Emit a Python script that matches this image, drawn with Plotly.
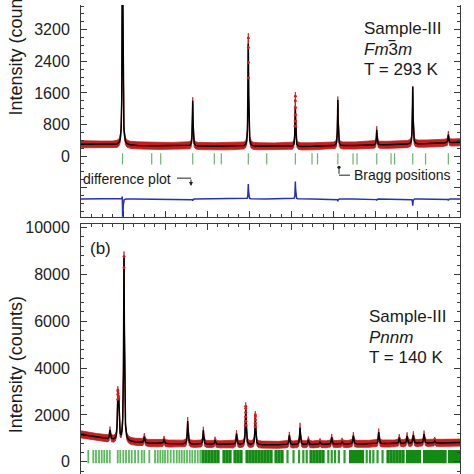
import numpy as np
import plotly.graph_objects as go

# ---------------- data (2-theta in degrees, intensity in counts) ----------------
X_MIN, X_MAX = 10.0, 100.0

# Panel (a): Sample-III, Fm-3m, T = 293 K
top_bg_x = [10, 26, 38, 62, 86, 100]
top_bg_y = [300, 260, 250, 240, 290, 350]
top_peak_pos = [19.86, 36.53, 49.73, 60.90, 70.99, 80.23, 88.78, 97.23]
top_peak_obs = [6100, 1150, 2780, 1290, 1160, 390, 1380, 205]
top_peak_calc = [6000, 1150, 2600, 960, 1160, 390, 1455, 205]
top_noise = 90
top_bragg = [19.86, 26.79, 28.93, 36.53, 41.66, 43.32, 49.73, 54.10, 60.90, 64.86,
             66.17, 70.99, 74.60, 75.55, 80.23, 83.63, 84.46, 88.78, 91.82, 97.23]
top_diff_offset = -1086
top_diff_pos = [19.80, 19.92, 36.53, 49.73, 60.90, 70.99, 80.23, 88.78, 97.23]
top_diff_amp = [190, -700, -50, 380, 440, -60, -40, -170, -40]
top_yticks = [-800, 0, 800, 1600, 2400, 3200]
top_ytext = ["", "0", "800", "1600", "2400", "3200"]

# Panel (b): Sample-III, Pnnm, T = 140 K
bot_bg_x = [10, 13, 16, 19, 22, 26, 32, 45, 56, 70, 85, 100]
bot_bg_y = [1170, 1080, 980, 900, 850, 800, 770, 740, 720, 750, 780, 820]
bot_peak_pos = [16.89, 18.74, 18.95, 20.21, 25.03, 29.71, 35.34, 39.05, 41.83, 46.93,
                49.12, 51.40, 59.47, 62.01, 63.98, 66.76, 69.54, 72.00, 74.67, 80.70,
                85.57, 87.43, 88.92, 91.46, 94.00]
bot_peak_obs = [380, 1780, 1550, 7930, 260, 170, 1000, 590, 170, 460,
                1650, 1280, 400, 780, 190, 110, 290, 120, 360, 500,
                250, 320, 360, 385, 100]
bot_peak_calc = [380, 1700, 1500, 7850, 260, 170, 980, 590, 170, 460,
                 1500, 1150, 400, 720, 190, 110, 290, 120, 360, 500,
                 250, 320, 360, 385, 100]
bot_noise = 150
bot_bragg_low = [11.73, 12.92, 13.56, 14.28, 14.92, 15.53, 16.18, 16.82, 18.72, 19.33,
                 20.05, 20.69, 21.40, 22.04, 22.83, 23.61, 24.42, 25.03, 26.22, 27.58,
                 28.22, 28.83, 29.40, 29.95, 30.59, 31.30, 32.02, 32.73, 33.35, 33.92,
                 34.53, 35.18, 35.82, 36.43, 37.08, 37.72, 38.33]
bot_bragg_dense = [38.98, 39.69, 40.40, 41.11, 41.83, 42.54, 43.96, 44.68, 45.39, 46.58,
                   47.29, 48.00, 49.43, 50.14, 50.85, 51.56, 52.28, 52.99, 53.70, 54.41,
                   55.13, 56.31, 57.03, 57.74, 64.63, 65.34, 66.05, 66.76, 67.48, 74.01,
                   74.72, 75.43, 76.14, 76.86, 82.91, 83.63, 84.34, 85.05, 85.76, 86.48,
                   87.54, 88.26, 88.97, 89.68, 90.39, 91.58, 92.29, 93.01, 93.72, 94.43,
                   95.14, 95.86, 96.45, 97.52, 98.23, 98.94, 99.66]
bot_bragg_split = [59.04, 60.47, 61.78, 62.80, 63.60, 68.73, 69.54, 70.33, 71.23, 72.58,
                   77.85, 78.64, 79.42, 80.42, 81.61]
bot_yticks = [0, 2000, 4000, 6000, 8000, 10000]
bot_ytext = ["0", "2000", "4000", "6000", "8000", "10000"]

# ---------------- profiles built from the read peak list ----------------
x = np.arange(X_MIN, X_MAX + 0.005, 0.01)


def profile(bgx, bgy, pos, hts, g):
    y = np.interp(x, bgx, bgy)
    for p, h in zip(pos, hts):
        y = y + h / (1.0 + ((x - p) / g) ** 2)
    return y


top_obs = profile(top_bg_x, top_bg_y, top_peak_pos, top_peak_obs, 0.09)
top_calc = profile(top_bg_x, top_bg_y, top_peak_pos, top_peak_calc, 0.09)
top_diff = profile([X_MIN, X_MAX], [top_diff_offset, top_diff_offset], top_diff_pos, top_diff_amp, 0.06)
bot_obs = profile(bot_bg_x, bot_bg_y, bot_peak_pos, bot_peak_obs, 0.11)
bot_calc = profile(bot_bg_x, bot_bg_y, bot_peak_pos, bot_peak_calc, 0.11)

RED = "#c41e1e"
fig = go.Figure()


def band(yv, n, xa, ya):
    fig.add_trace(go.Scatter(x=x, y=yv - n, mode="lines", line=dict(color=RED, width=0.8),
                             xaxis=xa, yaxis=ya))
    fig.add_trace(go.Scatter(x=x, y=yv + n, mode="lines", line=dict(color=RED, width=0.8),
                             fill="tonexty", fillcolor=RED, xaxis=xa, yaxis=ya))


def tips(obs, calc, thr, xa, ya):
    m = (obs - calc) > thr
    fig.add_trace(go.Scatter(x=x[m][::2], y=obs[m][::2], mode="markers",
                             marker=dict(color="#e01818", size=2.6, line=dict(width=0)),
                             xaxis=xa, yaxis=ya))


band(top_obs, top_noise, "x", "y")
fig.add_trace(go.Scatter(x=x, y=top_calc, mode="lines", line=dict(color="black", width=1.5), xaxis="x", yaxis="y"))
tips(top_obs, top_calc, 110, "x", "y")
fig.add_trace(go.Scatter(x=x, y=top_diff, mode="lines", line=dict(color="#2233bb", width=1.5), xaxis="x", yaxis="y"))
fig.add_trace(go.Scatter(x=top_bragg, y=[-70] * len(top_bragg), mode="markers",
                         marker=dict(symbol="line-ns", size=8, line=dict(color="#6db36d", width=1.2)),
                         xaxis="x", yaxis="y"))

band(bot_obs, bot_noise, "x2", "y2")
fig.add_trace(go.Scatter(x=x, y=bot_calc, mode="lines", line=dict(color="black", width=1.5), xaxis="x2", yaxis="y2"))
tips(bot_obs, bot_calc, 70, "x2", "y2")
fig.add_trace(go.Scatter(x=bot_bragg_low, y=[220] * len(bot_bragg_low), mode="markers",
                         marker=dict(symbol="line-ns", size=9.5, line=dict(color="#5cb85c", width=1.8)),
                         xaxis="x2", yaxis="y2"))
fig.add_trace(go.Scatter(x=bot_bragg_split, y=[220] * len(bot_bragg_split), mode="markers",
                         marker=dict(symbol="line-ns", size=9.5, line=dict(color="#2d9d2d", width=2.2)),
                         xaxis="x2", yaxis="y2"))
fig.add_trace(go.Scatter(x=bot_bragg_dense, y=[220] * len(bot_bragg_dense), mode="markers",
                         marker=dict(symbol="line-ns", size=9.5, line=dict(color="#138a13", width=3.2)),
                         xaxis="x2", yaxis="y2"))

AX = "#3a3a3a"
FONT = "Liberation Sans, Arial, sans-serif"


def xax(anchor, side):
    return dict(domain=[0, 1], anchor=anchor, range=[X_MIN, X_MAX], side=side,
                showline=True, linecolor=AX, linewidth=1, mirror=False,
                ticks="inside", ticklen=6, tickcolor=AX, tickwidth=1, dtick=10, tick0=0,
                minor=dict(ticks="inside", ticklen=3, dtick=2.5, tickcolor=AX),
                showticklabels=False, showgrid=False, zeroline=False)


def yax(anchor, domain, rng, tv, tt, mdtick):
    return dict(domain=domain, anchor=anchor, range=rng, showline=True, linecolor=AX, linewidth=1,
                mirror="ticks", ticks="inside", ticklen=6, tickcolor=AX, tickwidth=1,
                tickmode="array", tickvals=tv, ticktext=tt,
                minor=dict(ticks="inside", ticklen=3, dtick=mdtick, tick0=0, tickcolor=AX),
                showgrid=False, zeroline=False, ticklabelstandoff=7,
                tickfont=dict(family=FONT, size=16, color="#222"))


H = 474.0
W0, W1 = 81.0, 460.0


def px(v):
    return (v - W0) / (W1 - W0)


def py(v):
    return 1 - v / H


fig.update_layout(
    width=474, height=474, margin=dict(l=81, r=14, t=0, b=0),
    paper_bgcolor="white", plot_bgcolor="white", showlegend=False,
    xaxis=xax("y", "bottom"),
    yaxis=yax("x", [py(214), 1.0], [-1537, 3827], top_yticks, top_ytext, 200),
    xaxis2=xax("y2", "top"),
    yaxis2=yax("x2", [0.0, py(221.5)], [-520, 10148], bot_yticks, bot_ytext, 400),
)

ann = []


def txt(t, xl, yc, size=17, **kw):
    ann.append(dict(text=t, x=px(xl), y=py(yc), xref="paper", yref="paper", xanchor="left",
                    yanchor="middle", showarrow=False, font=dict(family=FONT, size=size, color="#1a1a1a"), **kw))


txt("Sample-III", 362, 24)
txt("<i>Fm</i>3<i>m</i>", 362, 45)
txt("T = 293 K", 362, 65)
txt("Sample-III", 367, 315)
txt("<i>Pnnm</i>", 367, 336)
txt("T = 140 K", 367, 356)
txt("(b)", 88, 246)
txt("difference plot", 81, 176, size=14)
txt("Bragg positions", 352, 172, size=14)

for yc in (43, 364):
    ann.append(dict(text="Intensity (counts)", x=px(16), y=py(yc), xref="paper", yref="paper",
                    xanchor="center", yanchor="middle", textangle=-90, showarrow=False,
                    font=dict(family=FONT, size=18, color="#1a1a1a")))

# arrows
ann.append(dict(text="", x=px(191), y=py(183), xref="paper", yref="paper", ax=0, ay=-8,
                showarrow=True, arrowhead=2, arrowsize=0.8, arrowwidth=1, arrowcolor="#222"))
ann.append(dict(text="", x=px(339), y=py(164), xref="paper", yref="paper", ax=0, ay=8,
                showarrow=True, arrowhead=6, arrowsize=0.8, arrowwidth=1, arrowcolor="#222"))
fig.update_layout(annotations=ann, shapes=[
    dict(type="line", xref="paper", yref="paper", x0=px(177), x1=px(191), y0=py(175), y1=py(175),
         line=dict(color="#222", width=1)),
    dict(type="line", xref="paper", yref="paper", x0=px(339), x1=px(350), y0=py(172), y1=py(172),
         line=dict(color="#222", width=1)),
    # bar over the "3" of Fm-3m
    dict(type="line", xref="paper", yref="paper", x0=px(388.5), x1=px(395.5), y0=py(36), y1=py(36),
         line=dict(color="#1a1a1a", width=1.2)),
])

fig.write_html("out.html", config={"displayModeBar": False})
